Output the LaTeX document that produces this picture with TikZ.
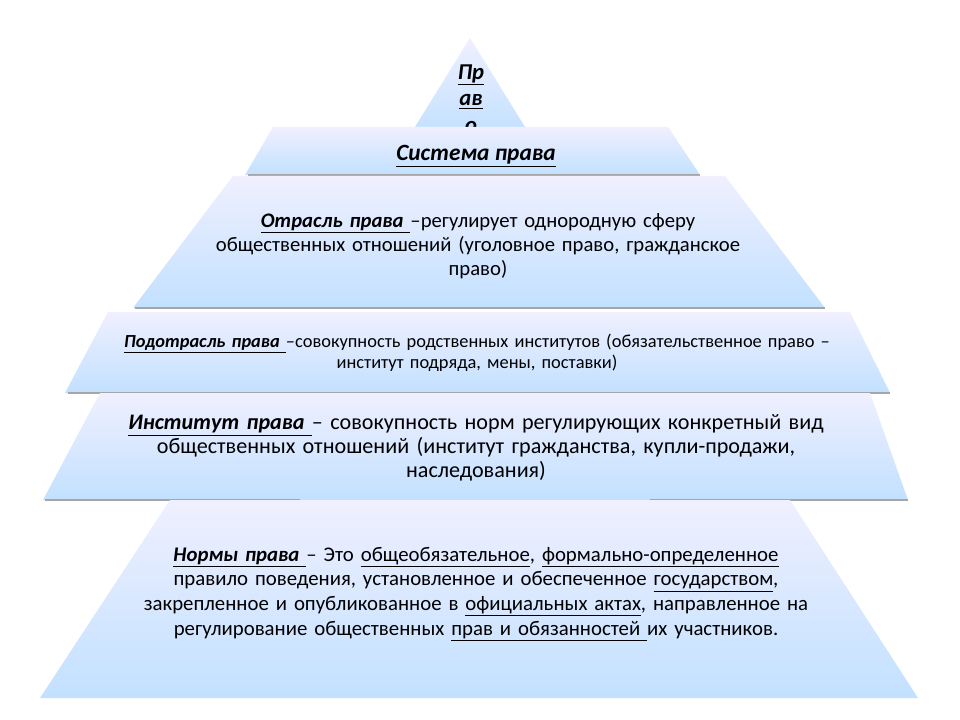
\documentclass[tikz,border=0pt]{standalone}
\usepackage{fontspec}
\setmainfont{Carlito}
\newcommand{\ul}[1]{\underline{#1}}
\begin{document}
\begin{tikzpicture}[x=0.75pt,y=-0.75pt,
  layer/.style={top color=blue!6!white, bottom color=blue!50!cyan!24!white, draw=none},
  shad/.style={draw=gray!70, line width=2.2pt},
  txt/.style={align=center}]
\useasboundingbox[fill=white] (0,0) rectangle (960,720);
% apex triangle
\path[layer] (470,38) -- (530,135) -- (410,135) -- cycle;
\node[align=center, font=\bfseries\itshape\fontsize{17}{20}\selectfont] (t) at (471,100) {\ul{Пр}\\\ul{ав}\\\ul{о}};
% layers
\path[layer] (273,127) -- (668,127) -- (700,175) -- (245,175) -- cycle;
\draw[shad] (248,175) -- (700,175);
\node[font=\bfseries\itshape\fontsize{17.5}{20}\selectfont] (s) at (476,156) {\ul{Система права}};

\path[layer] (233,176) -- (725,176) -- (825,308) -- (133,308) -- cycle;
\draw[shad] (135,308) -- (825,308);
\node[txt, text width=560pt, font=\fontsize{15.5}{18}\selectfont] (o) at (478,246) {\textbf{\textit{\ul{Отрасль права }}}–регулирует однородную сферу\\ общественных отношений (уголовное право, гражданское\\ право)};

\path[layer] (108,312) -- (850,312) -- (890,393) -- (65,393) -- cycle;
\draw[shad] (68,393) -- (890,393);
\node[txt, text width=640pt, font=\fontsize{13.8}{16}\selectfont] (p) at (477,353) {\textbf{\textit{\ul{Подотрасль права }}}–совокупность родственных институтов (обязательственное право –\\ институт подряда, мены, поставки)};

\path[layer] (100,393) -- (870,393) -- (908,500) -- (43,500) -- cycle;
\draw[shad] (45,500) -- (300,500);
\draw[shad] (650,500) -- (908,500);
\node[txt, text width=640pt, font=\fontsize{16.6}{18}\selectfont] (i) at (476,448) {\textbf{\textit{\ul{Институт права }}}– совокупность норм регулирующих конкретный вид\\ общественных отношений (институт гражданства, купли-продажи,\\ наследования)};

\path[layer] (170,500) -- (790,500) -- (918,698) -- (40,698) -- cycle;
\node[txt, text width=640pt, font=\fontsize{15.6}{18.5}\selectfont] (n) at (476,594) {\textbf{\textit{\ul{Нормы права }}}– Это \ul{общеобязательное}, \ul{формально-определенное}\\ правило поведения, установленное и обеспеченное \ul{государством},\\ закрепленное и опубликованное в \ul{официальных актах}, направленное на\\ регулирование общественных \ul{прав и обязанностей }их участников.};
\end{tikzpicture}
\end{document}
